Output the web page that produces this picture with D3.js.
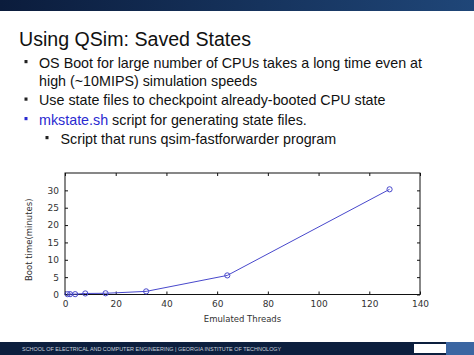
<!DOCTYPE html>
<html><head><meta charset="utf-8">
<script src="https://cdnjs.cloudflare.com/ajax/libs/d3/7.8.5/d3.min.js"></script>
<style>
html,body{margin:0;padding:0;background:#fff;overflow:hidden}
svg{display:block;font-family:"Liberation Sans",Arial,sans-serif}
</style></head><body>
<script>
const threads = [1, 2, 4, 8, 16, 32, 64, 128];
const bootMinutes = [0.1, 0.1, 0.1, 0.3, 0.35, 0.9, 5.5, 30.3];
const xTicks = [0, 20, 40, 60, 80, 100, 120, 140];
const yTicks = [0, 5, 10, 15, 20, 25, 30];
const title = "Using QSim: Saved States";
const bullets = [
  {level:1, parts:[{t:"OS Boot for large number of CPUs takes a long time even at"}]},
  {level:1, cont:true, parts:[{t:"high (~10MIPS) simulation speeds"}]},
  {level:1, parts:[{t:"Use state files to checkpoint already-booted CPU state"}]},
  {level:1, link:true, parts:[{t:"mkstate.sh", c:"#2a2ad0"},{t:" script for generating state files."}]},
  {level:2, parts:[{t:"Script that runs qsim-fastforwarder program"}]}
];
const footer = "SCHOOL OF ELECTRICAL AND COMPUTER ENGINEERING | GEORGIA INSTITUTE OF TECHNOLOGY";

const W = 474, H = 355;
const svg = d3.select("body").append("svg").attr("width", W).attr("height", H);
const defs = svg.append("defs");
const g1 = defs.append("linearGradient").attr("id","hdr").attr("x1","0").attr("x2","1");
g1.append("stop").attr("offset","0").attr("stop-color","#0b1c3c");
g1.append("stop").attr("offset","1").attr("stop-color","#1f4678");
svg.append("rect").attr("x",0).attr("y",0).attr("width",W).attr("height",11).attr("fill","url(#hdr)");

// footer
svg.append("rect").attr("x",0).attr("y",342).attr("width",W).attr("height",13).attr("fill","#0c1f3e");
svg.append("rect").attr("x",446).attr("y",342).attr("width",28).attr("height",13).attr("fill","#3b66a2");
svg.append("rect").attr("x",414).attr("y",344).attr("width",32).attr("height",9).attr("fill","#ffffff");
svg.append("text").attr("x",22).attr("y",350.5).attr("fill","#c8d0dc").attr("font-size",5.45).text(footer);

// title
svg.append("text").attr("x",19).attr("y",46).attr("font-size",19.6).attr("fill","#111").text(title);

// bullets
const baselines = [67.5, 85.5, 105, 124.5, 143.5];
bullets.forEach((b,i)=>{
  const y = baselines[i];
  const bx = b.level===1 ? 24.5 : 45.5;
  const tx = b.level===1 ? 39 : 60.5;
  if(!b.cont){
    svg.append("rect").attr("x",bx).attr("y",y-7.5).attr("width",3).attr("height",3.2)
      .attr("fill", b.link ? "#2a2ad0" : "#222");
  }
  const t = svg.append("text").attr("x",tx).attr("y",y).attr("font-size",14.3).attr("fill","#111");
  b.parts.forEach(p=>{ t.append("tspan").attr("fill",p.c||"#111").text(p.t); });
});

// chart
const L=65, R=420, T=173, B=294.5;
const x = d3.scaleLinear().domain([0,140]).range([L,R]);
const y = d3.scaleLinear().domain([0,35]).range([B,T]);
const ch = svg.append("g");
ch.append("rect").attr("x",L).attr("y",T).attr("width",R-L).attr("height",B-T)
  .attr("fill","none").attr("stroke","#111").attr("stroke-width",1);

const xa = ch.append("g").attr("transform",`translate(0,${B})`)
  .call(d3.axisBottom(x).tickValues(xTicks).tickSize(-3).tickPadding(6).tickFormat(d3.format("d")));
const xt = ch.append("g").attr("transform",`translate(0,${T})`)
  .call(d3.axisTop(x).tickValues(xTicks).tickSize(-3).tickFormat(""));
const ya = ch.append("g").attr("transform",`translate(${L},0)`)
  .call(d3.axisLeft(y).tickValues(yTicks).tickSize(-3).tickPadding(6).tickFormat(d3.format("d")));
const yr = ch.append("g").attr("transform",`translate(${R},0)`)
  .call(d3.axisRight(y).tickValues(yTicks).tickSize(-3).tickFormat(""));
[xa,xt,ya,yr].forEach(a=>{
  a.select(".domain").remove();
  a.selectAll("line").attr("stroke","#111");
  a.selectAll("text").attr("font-size",9).attr("fill","#333").attr("font-family","'DejaVu Sans',sans-serif");
});

const pts = threads.map((t,i)=>[t,bootMinutes[i]]);
ch.append("path").datum(pts).attr("fill","none").attr("stroke","#4848cc").attr("stroke-width",1)
  .attr("d", d3.line().x(d=>x(d[0])).y(d=>y(d[1])));
ch.selectAll("circle").data(pts).join("circle")
  .attr("cx",d=>x(d[0])).attr("cy",d=>y(d[1])).attr("r",2.6)
  .attr("fill","none").attr("stroke","#4848cc").attr("stroke-width",1);

ch.append("text").attr("x",(L+R)/2).attr("y",322).attr("text-anchor","middle")
  .attr("font-size",8.5).attr("fill","#333").attr("font-family","'DejaVu Sans',sans-serif").text("Emulated Threads");
ch.append("text").attr("transform",`translate(32,${(T+B)/2+6}) rotate(-90)`).attr("text-anchor","middle")
  .attr("font-size",8.5).attr("fill","#333").attr("font-family","'DejaVu Sans',sans-serif").text("Boot time(minutes)");
</script>
</body></html>
